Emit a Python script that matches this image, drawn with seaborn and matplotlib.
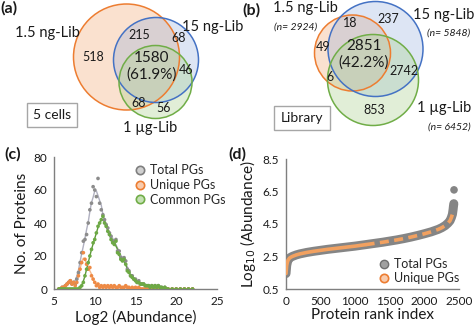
import numpy as np
import pandas as pd
import matplotlib
matplotlib.use("Agg")
import matplotlib.pyplot as plt
from matplotlib.patches import Circle, Rectangle
from matplotlib.lines import Line2D
import seaborn as sns

sns.set_theme(style="white")
plt.rcParams['font.family'] = ['Lato', 'DejaVu Sans']

# ---------------- data ----------------
# (a) Venn 5 cells
venn_a_sets = ["1.5 ng-Lib", "15 ng-Lib", "1 µg-Lib"]
venn_a_counts = {"o": 518, "ob": 215, "b": 68, "obg": 1580, "bg": 46, "og": 68, "g": 56}
venn_a_pct = "61.9%"
# (b) Venn library
venn_b_sets = ["1.5 ng-Lib", "15 ng-Lib", "1 µg-Lib"]
venn_b_n = [2924, 5848, 6452]
venn_b_counts = {"o": 49, "ob": 18, "b": 237, "obg": 2851, "bg": 2742, "og": 6, "g": 853}
venn_b_pct = "42.2%"

# (c) histogram of log2 abundance
bins_c = [5.6, 5.8, 6.0, 6.2, 6.4, 6.6, 6.8, 7.0, 7.2, 7.4, 7.6, 7.8, 8.0, 8.2, 8.4, 8.6,
          8.8, 9.0, 9.2, 9.4, 9.6, 9.8, 10.0, 10.2, 10.4, 10.6, 10.8, 11.0, 11.2, 11.4,
          11.6, 11.8, 12.0, 12.2, 12.4, 12.6, 12.8, 13.0, 13.2, 13.4, 13.6, 13.8, 14.0,
          14.2, 14.4, 14.6, 14.8, 15.0, 15.2, 15.4, 15.6, 15.8, 16.0, 16.2, 16.4, 16.6,
          16.8, 17.0, 17.2, 17.4, 17.6, 17.8, 18.0, 18.2, 18.4, 18.6, 18.8, 19.0, 19.5,
          20.0, 20.5, 21.0, 21.5, 22.0]
unique_c = [0, 0, 1, 1, 2, 3, 4, 5, 3, 4, 2, 4, 8, 12, 16, 22, 18, 15, 12, 13, 8, 6, 4, 2,
            3, 1, 2, 1, 2, 1, 2, 1, 2, 1, 2, 1, 1, 2, 1, 1, 1, 2, 1, 1, 0, 1, 0, 1, 0, 1,
            0, 0, 0, 0, 0, 0, 0, 0, 0, 0, 0, 0, 0, 0, 0, 0, 0, 0, 0, 0, 0, 0, 0, 0]
common_c = [0, 0, 0, 0, 0, 0, 0, 0, 0, 0, 0, 0, 0, 1, 2, 4, 8, 12, 16, 20, 24, 28, 30, 34,
            38, 40, 42, 44, 40, 38, 35, 33, 30, 28, 27, 29, 22, 21, 18, 17, 18, 15, 11,
            10, 8, 7, 6, 5, 4, 4, 3, 3, 3, 2, 2, 2, 1, 2, 1, 2, 1, 2, 1, 1, 0, 1, 0, 0, 0,
            0, 0, 0, 0, 0]
total_c = [0, 0, 1, 1, 2, 3, 4, 5, 3, 4, 3, 6, 10, 16, 22, 29, 30, 33, 40, 48, 52, 62, 60,
           56, 67, 52, 48, 45, 42, 39, 37, 34, 32, 29, 29, 30, 23, 23, 19, 18, 19, 17, 12,
           11, 8, 8, 6, 6, 4, 5, 3, 3, 3, 2, 2, 2, 1, 2, 1, 2, 1, 2, 1, 1, 0, 1, 0, 0, 0,
           0, 0, 0, 0, 0]
series_c = ["Total PGs", "Unique PGs", "Common PGs"]

# (d) rank plot
rank_total = [0, 5, 10, 20, 30, 50, 75, 100, 150, 200, 300, 400, 500, 600, 700, 800, 900,
              1000, 1100, 1200, 1300, 1400, 1500, 1600, 1700, 1800, 1900, 2000, 2100, 2200,
              2250, 2300, 2340, 2370, 2390, 2405, 2415, 2420, 2425]
log_total = [1.45, 1.7, 1.95, 2.15, 2.28, 2.4, 2.47, 2.52, 2.6, 2.66, 2.75, 2.82, 2.88, 2.94,
             2.99, 3.04, 3.09, 3.14, 3.2, 3.26, 3.32, 3.38, 3.45, 3.52, 3.6, 3.69, 3.79, 3.9,
             4.02, 4.17, 4.27, 4.4, 4.55, 4.7, 4.9, 5.1, 5.4, 5.6, 5.75]
rank_outlier = [2428]
log_outlier = [6.6]
rank_unique = [0, 5, 10, 20, 30, 50, 75, 100, 150, 200, 300, 400, 500, 600, 700, 800, 900,
               1000, 1100, 1150, 1200, 1300, 1400, 1500, 1600, 1700, 1800, 1900, 2000, 2100,
               2200, 2250, 2300, 2340, 2370, 2390, 2405]
log_unique = [1.45, 1.7, 1.95, 2.15, 2.28, 2.4, 2.47, 2.52, 2.6, 2.66, 2.75, 2.82, 2.88,
              2.94, 2.99, 3.04, 3.09, 3.14, 3.2, 3.23, 3.26, 3.32, 3.38, 3.45, 3.52, 3.6,
              3.69, 3.79, 3.9, 4.02, 4.17, 4.27, 4.4, 4.55, 4.7, 4.9, 5.1]

# ---------------- style ----------------
C_OR, C_BL, C_GR = "#ED7D31", "#4472C4", "#70AD47"
F_OR, F_BL, F_GR = "#F4B183", "#8FAADC", "#A9D18E"
TXT = "#1a1a1a"
AXC = "#7f7f7f"

W, H = 474, 329
fig = plt.figure(figsize=(W / 100, H / 100), dpi=100)
ax0 = fig.add_axes([0, 0, 1, 1])
ax0.set_xlim(0, W)
ax0.set_ylim(H, 0)
ax0.axis("off")
ax0.patch.set_alpha(0)


def venn(ax, circles, labels, counts, pct, pos, setpos, box, n=None, npos=None):
    cols = [(C_OR, F_OR, 0.38), (C_BL, F_BL, 0.30), (C_GR, F_GR, 0.35)]
    for (cx, cy, r), (ec, fc, a) in zip(circles, cols):
        ax.add_patch(Circle((cx, cy), r, facecolor=fc, alpha=a, edgecolor="none"))
    for (cx, cy, r), (ec, fc, a) in zip(circles, cols):
        ax.add_patch(Circle((cx, cy), r, facecolor="none", edgecolor=ec, lw=1.1))
    for k, (x, y) in pos.items():
        if k == "obg":
            ax.text(x, y, f"{counts[k]}", ha="center", va="center", fontsize=11, color=TXT)
            ax.text(x, y + 17, f"({pct})", ha="center", va="center", fontsize=11, color=TXT)
        else:
            ax.text(x, y, f"{counts[k]}", ha="center", va="center", fontsize=9, color=TXT)
    for lab, (x, y) in zip(labels, setpos):
        ax.text(x, y, lab, ha="center", va="center", fontsize=10.5, color=TXT)
    if n is not None:
        for nv, (x, y) in zip(n, npos):
            ax.text(x, y, f"(n= {nv})", ha="center", va="center", fontsize=7.5,
                    style="italic", color=TXT)
    (bx0, by0, bx1, by1, btxt) = box
    ax.add_patch(Rectangle((bx0, by0), bx1 - bx0, by1 - by0, facecolor="white",
                           edgecolor="#a6a6a6", lw=1.0))
    ax.text((bx0 + bx1) / 2, (by0 + by1) / 2, btxt, ha="center", va="center",
            fontsize=10, color=TXT)


venn(ax0,
     [(126.5, 57, 53), (156, 60, 42.5), (155.5, 82, 36.5)],
     venn_a_sets, venn_a_counts, venn_a_pct,
     {"o": (93, 57), "ob": (139, 35), "b": (179, 38), "obg": (152, 58),
      "bg": (186, 70), "og": (139, 103), "g": (164, 108)},
     [(47, 33), (213, 27), (150, 128)],
     (27, 103, 77, 127, "5 cells"))

venn(ax0,
     [(352.5, 53, 38), (375.5, 49, 47.5), (373, 80, 45.5)],
     venn_b_sets, venn_b_counts, venn_b_pct,
     {"o": (323, 47), "ob": (350, 23), "b": (388, 19), "obg": (364, 46),
      "bg": (404, 71), "og": (330, 77), "g": (374, 110)},
     [(305, 8), (444, 15), (444, 108)],
     (274, 106, 330, 130, "Library"),
     n=venn_b_n, npos=[(296, 27), (449, 33), (449, 127)])

for lab, (x, y) in zip(["(a)", "(b)", "(c)", "(d)"],
                       [(9, 8), (251, 10), (13, 154), (237, 154)]):
    ax0.text(x, y, lab, ha="center", va="center", fontsize=11.5, fontweight="bold", color=TXT)

# ---------------- (c) ----------------
axc = fig.add_axes([54 / W, 1 - 289 / H, (217 - 54) / W, (289 - 157) / H])
df_c = pd.concat([
    pd.DataFrame({"x": bins_c, "y": total_c, "s": series_c[0]}),
    pd.DataFrame({"x": bins_c, "y": unique_c, "s": series_c[1]}),
    pd.DataFrame({"x": bins_c, "y": common_c, "s": series_c[2]}),
])
pt_cols = {"Total PGs": "#8c8c8c", "Unique PGs": "#EE8A45", "Common PGs": "#6DA945"}
ln_cols = {"Total PGs": "#b0b0c0", "Unique PGs": "#F6B98C", "Common PGs": "#5E9A3A"}
win = {"Total PGs": 5, "Unique PGs": 3, "Common PGs": 3}
for s in series_c:
    d = df_c[df_c["s"] == s].copy()
    d["smooth"] = d["y"].rolling(win[s], center=True, min_periods=1).mean()
    sns.lineplot(data=d, x="x", y="smooth", ax=axc, color=ln_cols[s], lw=1.0)
    sns.scatterplot(data=d, x="x", y="y", ax=axc, color=pt_cols[s], s=7,
                    edgecolor="none", zorder=3)
axc.set_xlim(5, 25)
axc.set_ylim(0, 80)
axc.set_xticks([5, 10, 15, 20, 25])
axc.set_yticks([0, 20, 40, 60, 80])
axc.set_xlabel("Log2 (Abundance)", fontsize=11, color=TXT, labelpad=2)
axc.set_ylabel("No. of Proteins", fontsize=11, color=TXT, labelpad=3)
handles_c = [
    Line2D([], [], marker="o", ls="none", ms=6, mfc="#d0d0d0", mec="#7f7f7f", mew=1.2),
    Line2D([], [], marker="o", ls="none", ms=6, mfc="#F8CBAD", mec="#ED7D31", mew=1.2),
    Line2D([], [], marker="o", ls="none", ms=6, mfc="#C5E0B4", mec="#70AD47", mew=1.2),
]
axc.legend(handles_c, series_c, loc="upper right", bbox_to_anchor=(1.1, 1.0),
           frameon=False, fontsize=9, handletextpad=0.3, labelspacing=0.2,
           borderaxespad=0.2, handlelength=1.0)

# ---------------- (d) ----------------
axd = fig.add_axes([286 / W, 1 - 289 / H, (459 - 286) / W, (289 - 159) / H])
df_t = pd.DataFrame({"rank": rank_total, "val": log_total})
df_u = pd.DataFrame({"rank": rank_unique, "val": log_unique})
sns.lineplot(data=df_t, x="rank", y="val", ax=axd, color="#858585", lw=6.5,
             solid_capstyle="round")
sns.scatterplot(x=rank_outlier, y=log_outlier, ax=axd, color="#858585", s=30,
                edgecolor="none", zorder=4)
sns.lineplot(data=df_u[df_u["rank"] <= 1150], x="rank", y="val", ax=axd,
             color="#F2A160", lw=2.6, solid_capstyle="round", zorder=5)
sns.lineplot(data=df_u[df_u["rank"] >= 1150], x="rank", y="val", ax=axd,
             color="#F2A160", lw=2.6, zorder=5)
axd.lines[-1].set_linestyle((0, (2.5, 1.5)))
axd.set_xlim(0, 2500)
axd.set_ylim(0.5, 8.5)
axd.set_xticks([0, 500, 1000, 1500, 2000, 2500])
axd.set_yticks([0.5, 2.5, 4.5, 6.5, 8.5])
axd.set_yticklabels(["0.5", "2.5", "4.5", "6.5", "8.5"])
axd.set_xlabel("Protein rank index", fontsize=11, color=TXT, labelpad=1)
axd.set_ylabel("Log$_{10}$ (Abundance)", fontsize=11, color=TXT, labelpad=3)
handles_d = [
    Line2D([], [], marker="o", ls="none", ms=6, mfc="#a0a0a0", mec="#6f6f6f", mew=1.0),
    Line2D([], [], marker="o", ls="none", ms=6, mfc="#F8CBAD", mec="#ED7D31", mew=1.2),
]
axd.legend(handles_d, ["Total PGs", "Unique PGs"], loc="lower right",
           bbox_to_anchor=(1.04, -0.01), frameon=False, fontsize=9,
           handletextpad=0.3, labelspacing=0.15, borderaxespad=0.1, handlelength=1.0)

for ax in (axc, axd):
    for side in ("top", "right"):
        ax.spines[side].set_visible(False)
    for side in ("left", "bottom"):
        ax.spines[side].set_color(AXC)
        ax.spines[side].set_linewidth(1.0)
    ax.tick_params(axis="both", which="both", direction="out", length=3, width=0.8,
                   color=AXC, labelsize=8.5, labelcolor=TXT, pad=2)
    ax.patch.set_alpha(0)

fig.savefig("out.png", dpi=100)
